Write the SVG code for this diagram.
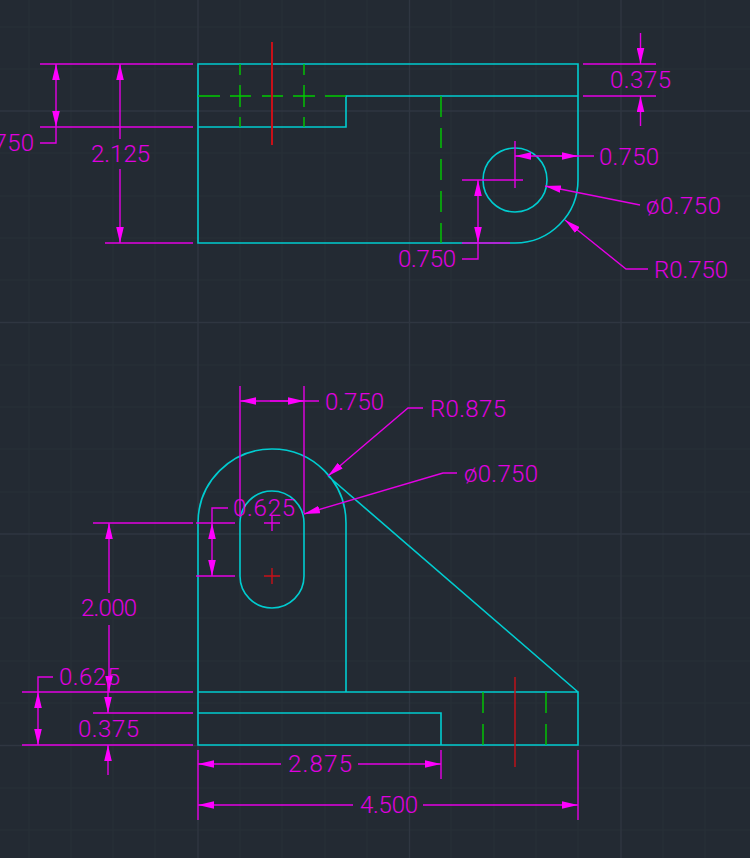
<svg xmlns="http://www.w3.org/2000/svg" width="750" height="858" viewBox="0 0 750 858">
<style>
.minor{stroke:#293039;stroke-width:1;fill:none}
.major{stroke:#2f3641;stroke-width:1.4;fill:none}
.obj{stroke:#00ccd0;stroke-width:1.6;fill:none}
.hid{stroke:#00cc00;stroke-width:1.4;fill:none}
.ctr{stroke:#c81018;stroke-width:1.4;fill:none}
.dim{stroke:#e400e4;stroke-width:1.4;fill:none}
.ah{marker-end:url(#a)}
.ahs{marker-start:url(#b)}
text{font-family:"Roboto","Liberation Sans",sans-serif;font-weight:300;font-size:24px;fill:#e000e0}
</style>
<defs>
<marker id="a" markerUnits="userSpaceOnUse" markerWidth="16" markerHeight="8" refX="16" refY="4" orient="auto"><path d="M0 0.200L16 4L0 7.800Z" fill="#ff00ff"/></marker>
<marker id="b" markerUnits="userSpaceOnUse" markerWidth="16" markerHeight="8" refX="0" refY="4" orient="auto"><path d="M16 0.200L0 4L16 7.800Z" fill="#ff00ff"/></marker>
</defs>
<rect width="750" height="858" fill="#232a33"/>
<g id="grid">
<path class="minor" d="M29 0V858M71 0V858M113 0V858M155 0V858M240 0V858M282 0V858M325 0V858M367 0V858M451 0V858M494 0V858M536 0V858M578 0V858M663 0V858M705 0V858M0 27H750M0 69H750M0 153H750M0 196H750M0 238H750M0 280H750M0 365H750M0 407H750M0 449H750M0 492H750M0 576H750M0 618H750M0 661H750M0 703H750M0 788H750M0 830H750"/>
<path class="major" d="M198 0V858M409.500 0V858M621 0V858M0 111H750M0 322.500H750M0 534H750M0 745.500H750"/>
</g>
<g id="top-view">
<path class="obj" d="M198 64H578V180A63 63 0 0 1 515 243H198ZM578 96H346V127H198"/>
<circle class="obj" cx="515" cy="180" r="32"/>
<path class="hid" d="M240 64V75M240 85V107M240 117V127M304 64V75M304 85V107M304 117V127M198 96H220M230 96H251M262 96H283M293 96H315M325 96H346M441 96V117M441 128V148M441 159V180M441 191V212M441 223V243"/>
<path class="ctr" style="stroke-width:2" d="M272 42V145"/>
</g>
<g id="front-view">
<path class="obj" d="M198 692V523A74 74 0 0 1 346 523V692M328 476L578 692M198 692H578V745H198ZM198 713H441V745"/>
<path class="obj" d="M240 523A32 32 0 0 1 304 523V576A32 32 0 0 1 240 576Z"/>
<path class="hid" d="M483 692V713M483 724V745M546 692V713M546 724V745"/>
<path class="ctr" d="M515 677V767M264 576H280M272 568V584"/>
</g>
<g id="connectors">
<path class="dim" d="M40 64H193M40 127H193M105 243H193M583 64H656M583 96H656M462 180H523M515 141V188M462 243H510M240 386V517M304 386V513M264 523H280M272 515V531M93 523H193M196 523H235M196 576H235M93 713H193M22 692H193M22 745H193M198 750V820M441 750V779M578 750V820"/>
<path class="dim" d="M56 127V143H40M228 508H212V523M38 692V677H53M478 243V259H462"/>
<line class="dim ah ahs" x1="56" y1="64" x2="56" y2="127"/>
<line class="dim ahs" x1="120" y1="64" x2="120" y2="139"/>
<line class="dim ah" x1="120" y1="169" x2="120" y2="243"/>
<line class="dim ah" x1="640.500" y1="33" x2="640.500" y2="64"/>
<line class="dim ah" x1="640.500" y1="126" x2="640.500" y2="96"/>
<line class="dim ahs" x1="515" y1="156" x2="594" y2="156"/>
<line class="dim ah" x1="550" y1="156" x2="578" y2="156"/>
<line class="dim ah ahs" x1="478" y1="180" x2="478" y2="243"/>
<path class="dim ah" d="M640 205L545 186"/>
<path class="dim ah" d="M648 269H626L565 220"/>
<line class="dim ahs" x1="240" y1="401" x2="319" y2="401"/>
<line class="dim ah" x1="270" y1="401" x2="304" y2="401"/>
<path class="dim ah" d="M423 408H408L328 476"/>
<path class="dim ah" d="M457 473H443L304 514"/>
<line class="dim ah ahs" x1="212" y1="523" x2="212" y2="576"/>
<line class="dim ahs" x1="109" y1="523" x2="109" y2="593"/>
<line class="dim ah" x1="109" y1="625" x2="109" y2="692"/>
<line class="dim ah" x1="108" y1="680" x2="108" y2="713"/>
<line class="dim ah" x1="108" y1="775" x2="108" y2="745"/>
<line class="dim ah ahs" x1="38" y1="692" x2="38" y2="745"/>
<line class="dim ahs" x1="198" y1="764" x2="281" y2="764"/>
<line class="dim ah" x1="358" y1="764" x2="441" y2="764"/>
<line class="dim ahs" x1="198" y1="805" x2="353" y2="805"/>
<line class="dim ah" x1="423" y1="805" x2="578" y2="805"/>
</g>
<g id="labels">
<text x="-26" y="151" textLength="60">0.750</text>
<text x="91" y="162" textLength="59">2.125</text>
<text x="610" y="88" textLength="61">0.375</text>
<text x="599" y="165" textLength="60">0.750</text>
<text x="646" y="214" textLength="75">ø0.750</text>
<text x="654" y="278" textLength="74">R0.750</text>
<text x="398" y="267" textLength="58">0.750</text>
<text x="325" y="410" textLength="59">0.750</text>
<text x="430" y="417" textLength="76">R0.875</text>
<text x="464" y="482" textLength="74">ø0.750</text>
<text x="233" y="516" textLength="62">0.625</text>
<text x="81" y="616" textLength="56">2.000</text>
<text x="59" y="685" textLength="61">0.625</text>
<text x="78" y="737" textLength="61">0.375</text>
<text x="288" y="772" textLength="64">2.875</text>
<text x="360" y="813" textLength="58">4.500</text>
</g>
</svg>
